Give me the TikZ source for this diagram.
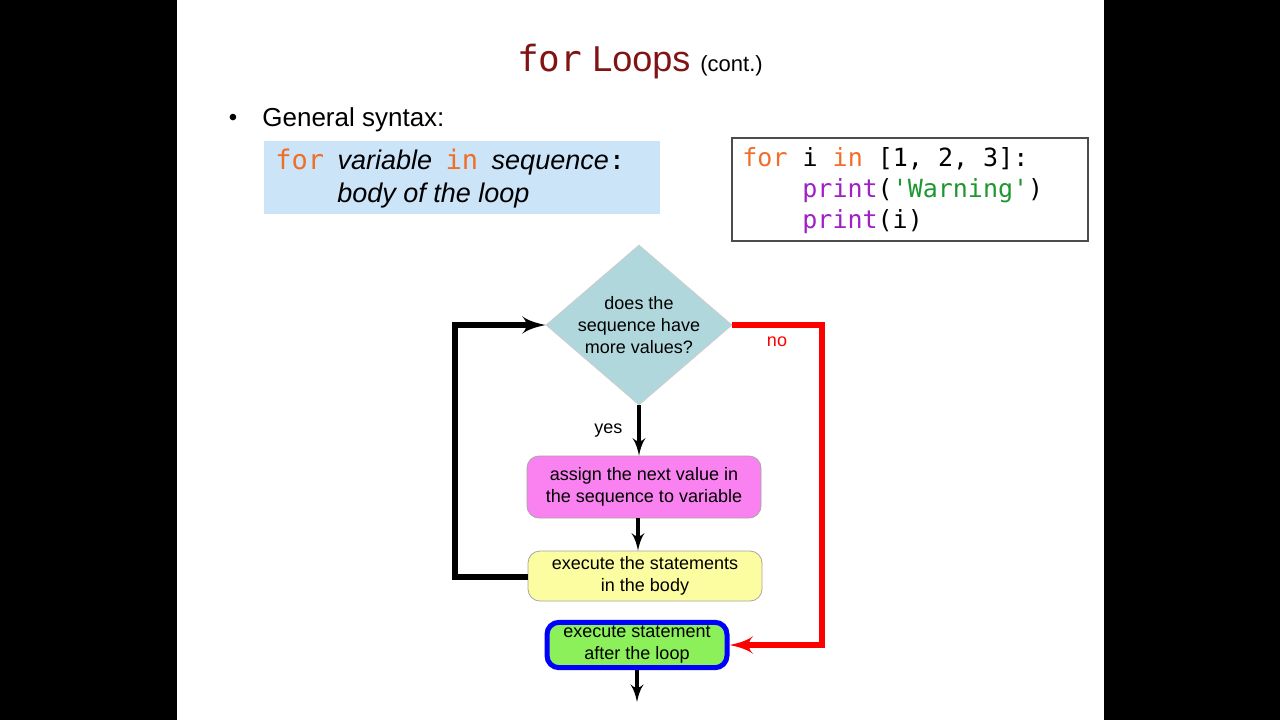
\documentclass[tikz,border=0pt]{standalone}
\usepackage{fontspec}
\setmainfont{Liberation Sans}
\setmonofont{DejaVu Sans Mono}
\usepackage{tikz}
\usetikzlibrary{arrows,positioning,calc,shapes.geometric}
\definecolor{titlered}{RGB}{128,20,20}
\definecolor{kwor}{RGB}{240,110,40}
\definecolor{synblue}{RGB}{204,228,248}
\definecolor{diamblue}{RGB}{176,216,220}
\definecolor{boxpink}{RGB}{250,130,240}
\definecolor{boxyellow}{RGB}{252,252,160}
\definecolor{boxgreen}{RGB}{140,240,90}
\definecolor{strpurple}{RGB}{160,32,200}
\definecolor{strgreen}{RGB}{30,150,50}
\tikzset{
  flowbox/.style={rectangle,rounded corners=6pt,draw=black!35,align=center,font=\fontsize{9}{11}\selectfont,minimum width=117pt,inner sep=2pt},
  flow/.style={->,line width=2pt},
}
\begin{document}
\begin{tikzpicture}[x=0.5pt,y=-0.5pt,>=latex']
\useasboundingbox (0,0) rectangle (1280,720);
\fill[black] (0,0) rectangle (1280,720);
\fill[white] (177,0) rectangle (1104,720);
% title and syntax
\node[font=\fontsize{18}{20}\selectfont,text=titlered] (title) at (640,62) {\texttt{for} Loops {\fontsize{11}{12}\selectfont\color{black}(cont.)}};
\node[font=\fontsize{12}{14}\selectfont] (bullet) at (233,120) {\textbullet};
\node[font=\fontsize{13}{14}\selectfont,anchor=west,inner sep=0pt] (gen) at (262,120) {General syntax:};
\fill[synblue] (264,141) rectangle (660,214);
\node[anchor=north west,align=left,font=\fontsize{13.5}{16.5}\selectfont,inner sep=0pt] (syn) at (275,149)
  {{\ttfamily\color{kwor}for}\enspace\textit{variable}\enspace{\ttfamily\color{kwor}in}\enspace\textit{sequence}\texttt{:}\\
   \hspace*{31pt}\textit{body of the loop}};
\draw[black!70,line width=0.6pt] (732,138) rectangle (1088,241);
\node[anchor=north west,align=left,font=\ttfamily\fontsize{12.5}{15.5}\selectfont,inner sep=0pt] (code) at (742,147)
  {{\color{kwor}for} i {\color{kwor}in} [1, 2, 3]:\\
   \hspace*{30pt}{\color{strpurple}print}({\color{strgreen}'Warning'})\\
   \hspace*{30pt}{\color{strpurple}print}(i)};
% flowchart
\node[diamond,fill=diamblue,draw=black!20,minimum width=93pt,minimum height=80pt,inner sep=-6pt,align=center,font=\fontsize{9}{11}\selectfont] (test) at (639,325) {does the\\sequence have\\more values?};
\node[flowbox,fill=boxpink,minimum height=31pt] (assign) at (644,487) {assign the next value in\\the sequence to variable};
\node[flowbox,fill=boxyellow,minimum height=25pt] (body) at (645,576) {execute the statements\\in the body};
\node[flowbox,fill=boxgreen,draw=blue,line width=2.5pt,minimum width=90pt,minimum height=22pt] (after) at (637,645) {execute statement\\after the loop};
\coordinate (out) at (637,702);
\draw[flow] (test.south) -- (test.south |- assign.north) node[midway,left=4pt,font=\fontsize{9}{10}\selectfont] (yes) {yes};
\draw[flow] (assign.south -| 638,0) -- (body.north -| 638,0);
\draw[flow,line width=3pt] (body.west |- 0,577) -- (455,577) -- (455,325) -- (test.west);
\draw[flow,red,line width=3pt] (test.east) -- (822,325) -- (822,645) -- (after.east);
\node[text=red,font=\fontsize{9}{10}\selectfont] (no) at (777,342) {no};
\draw[flow] (after.south) -- (out);
\end{tikzpicture}
\end{document}
